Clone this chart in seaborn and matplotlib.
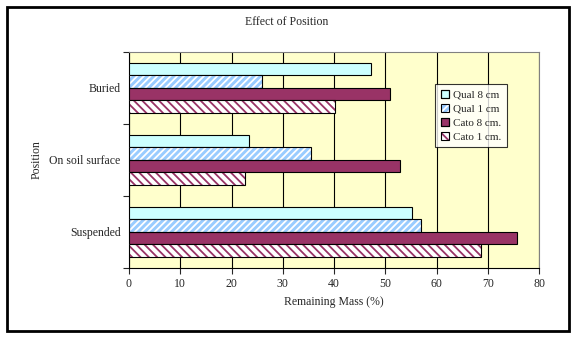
import pandas as pd
import seaborn as sns
import matplotlib.pyplot as plt
from matplotlib.patches import Rectangle
from matplotlib.legend_handler import HandlerTuple

# === Data ===
positions = ["Buried", "On soil surface", "Suspended"]
series = ["Qual 8 cm", "Qual 1 cm", "Cato 8 cm.", "Cato 1 cm."]
qual_8cm = [47.3, 23.4, 55.2]
qual_1cm = [26.0, 35.5, 57.0]
cato_8cm = [51.0, 52.9, 75.8]
cato_1cm = [40.1, 22.7, 68.7]

df = pd.DataFrame({
    "Position": positions * 4,
    "Series": [s for s in series for _ in positions],
    "Remaining Mass": qual_8cm + qual_1cm + cato_8cm + cato_1cm,
})

# === Style ===
sns.set_style("white")
plt.rcParams["font.family"] = ["Liberation Serif", "DejaVu Serif"]
plt.rcParams["hatch.linewidth"] = 1.3

face = {"Qual 8 cm": "#CCFFFF", "Qual 1 cm": "#99CCFF", "Cato 8 cm.": "#993366", "Cato 1 cm.": "#FFFFFF"}
hatch = {"Qual 8 cm": "", "Qual 1 cm": "/////", "Cato 8 cm.": "", "Cato 1 cm.": "\\\\\\\\"}
hatch_col = {"Qual 1 cm": "#FFFFFF", "Cato 1 cm.": "#993366"}

fig = plt.figure(figsize=(5.74, 3.41), dpi=100)
ax = fig.add_axes([129 / 574, 1 - 267.7 / 341, 410 / 574, 216 / 341])
ax.set_facecolor("#FFFFCC")

sns.barplot(data=df, y="Position", x="Remaining Mass", hue="Series", order=positions,
            hue_order=series, palette=face, orient="h", width=0.694, gap=0,
            edgecolor="black", linewidth=0.8, saturation=1, ax=ax, legend=False, zorder=3)

# === Hatching: bar containers come in hue order ===
for s, cont in zip(series, ax.containers):
    for p in cont.patches:
        if hatch[s]:
            p.set_hatch(hatch[s])
            p.set_edgecolor(hatch_col[s])
            p.set_linewidth(0)
            ax.add_patch(Rectangle(p.get_xy(), p.get_width(), p.get_height(), fill=False,
                                   edgecolor="black", linewidth=0.8, zorder=4))

# === Axes ===
ax.set_xlim(0, 80)
ax.set_xticks(range(0, 81, 10))
ax.set_ylim(2.5, -0.5)
ax.set_yticks([-0.5, 0.5, 1.5, 2.5], minor=True)
ax.tick_params(axis="y", which="major", length=0, labelsize=8.5, pad=6)
ax.tick_params(axis="y", which="minor", length=4, width=0.8, direction="out", left=True)
ax.tick_params(axis="x", length=4, width=0.8, direction="out", bottom=True, labelsize=8.5)
ax.grid(axis="x", color="black", linewidth=0.8, zorder=0)
ax.set_axisbelow(True)
for side in ["top", "right"]:
    ax.spines[side].set_color("#808080")
for side in ["left", "bottom"]:
    ax.spines[side].set_color("black")
    ax.spines[side].set_linewidth(0.8)
ax.set_xlabel("Remaining Mass (%)", fontsize=8.5, labelpad=4)
ax.set_ylabel("")
fig.text(37 / 574, 1 - 160 / 341, "Position", rotation=90, ha="center", va="center", fontsize=8.5)
fig.text(0.5, 1 - 22 / 341, "Effect of Position", ha="center", va="center", fontsize=8.5)

# === Legend: hatched box + black outline per entry ===
handles = []
for s in series:
    fill = Rectangle((0, 0), 1, 1, facecolor=face[s], edgecolor=hatch_col.get(s, "black"),
                     hatch=hatch[s], linewidth=0 if hatch[s] else 0.8)
    outline = Rectangle((0, 0), 1, 1, fill=False, edgecolor="black", linewidth=0.8)
    handles.append((fill, outline))
leg = ax.legend(handles, series, handler_map={tuple: HandlerTuple(ndivide=1, pad=0)},
                loc="upper left", bbox_to_anchor=(435 / 574, 1 - 84 / 341),
                bbox_transform=fig.transFigure, fontsize=8, frameon=True, fancybox=False,
                handlelength=0.8, handleheight=0.8, handletextpad=0.3, borderpad=0.5,
                labelspacing=0.35, borderaxespad=0)
leg.get_frame().set_edgecolor("black")
leg.get_frame().set_linewidth(0.8)
leg.set_zorder(10)

# === Outer frame ===
fig.patches.append(Rectangle((7 / 574, 1 - 331 / 341), 562 / 574, 324 / 341, fill=False,
                             edgecolor="black", linewidth=2, transform=fig.transFigure))

fig.savefig("out.png", dpi=100)
